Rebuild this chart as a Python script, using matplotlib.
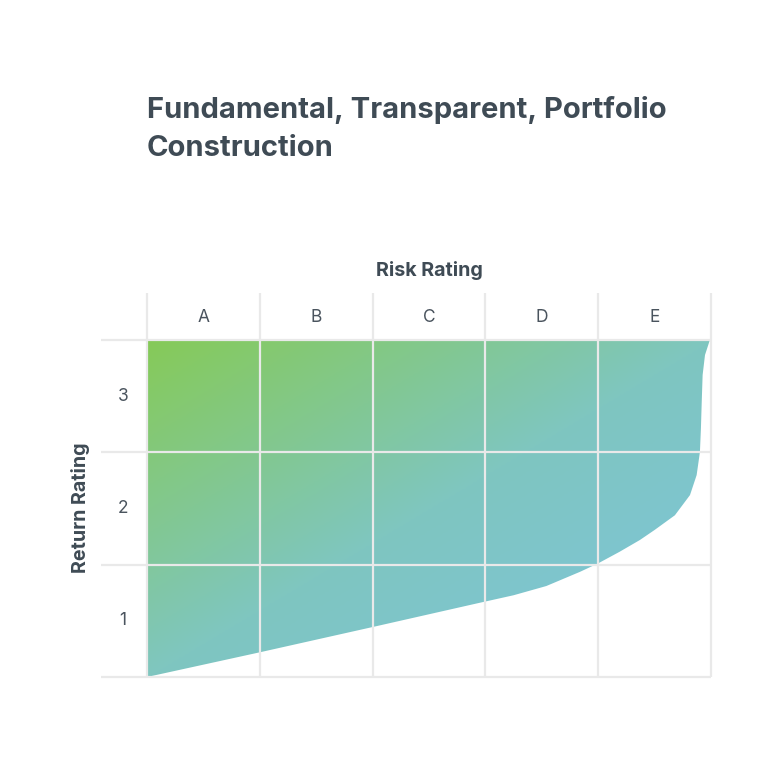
import numpy as np
import matplotlib
matplotlib.use('Agg')
import matplotlib.pyplot as plt
from matplotlib.patches import Polygon
from matplotlib.colors import LinearSegmentedColormap

plt.rcParams['font.family'] = ['Inter', 'DejaVu Sans']

title = 'Fundamental, Transparent, Portfolio\nConstruction'
risk_labels = ['A', 'B', 'C', 'D', 'E']
return_labels = ['1', '2', '3']

# frontier of the shaded region (risk, return)
frontier_x = [0.0, 1.0, 2.0, 2.95, 3.25, 3.54, 3.84, 4.0, 4.19, 4.37, 4.50,
              4.68, 4.814, 4.873, 4.902, 4.911, 4.918, 4.926, 4.947, 4.99]
frontier_y = [0.0, 0.22, 0.445, 0.661, 0.728, 0.81, 0.937, 1.012, 1.115, 1.22,
              1.309, 1.44, 1.62, 1.798, 2.003, 2.217, 2.448, 2.689, 2.867, 3.0]

grad_colors = ['#86ca58', '#7fc6c0', '#7ec4de']
text_dark = '#3f4b55'
grid_col = '#e9e9e9'

fig = plt.figure(figsize=(7.68, 7.68), dpi=100)
ax = fig.add_axes([90/768, 83/768, 630/768, 400/768])
ax.axis('off')

# gradient image clipped by frontier
cmap = LinearSegmentedColormap.from_list('g', grad_colors)
u = np.linspace(0, 1, 300)
v = np.linspace(0, 1, 200)
U, V = np.meshgrid(u, v)
T = (U + V) / 2  # top-left -> bottom-right
im = ax.imshow(T, cmap=cmap, extent=(0, 5, 0, 3), origin='upper',
               aspect='auto', interpolation='bilinear', zorder=1)
ax.set_xlim(-0.505, 5.08)
ax.set_ylim(-0.071, 3.49)
verts = [(0, 3)] + list(zip(frontier_x[::-1], frontier_y[::-1]))
poly = Polygon(verts, closed=True, facecolor='none', edgecolor='none')
ax.add_patch(poly)
im.set_clip_path(poly)

# grid
for i in range(6):
    ax.plot([i, i], [0, 3.42], color=grid_col, lw=1.6, zorder=3,
            solid_capstyle='butt', clip_on=False)
for j in range(4):
    ax.plot([-0.41, 5], [j, j], color=grid_col, lw=1.6, zorder=3,
            solid_capstyle='butt', clip_on=False)

for i, lab in enumerate(risk_labels):
    ax.text(i + 0.5, 3.205, lab, ha='center', va='center',
            fontsize=12.5, color='#4a545e')
for j, lab in enumerate(return_labels):
    ax.text(-0.213, j + 0.5, lab, ha='center', va='center',
            fontsize=12.5, color='#4a545e')

fig.text(429/768, 1 - 271/768, 'Risk Rating', ha='center', va='center',
         fontsize=14.2, fontweight='bold', color=text_dark)
fig.text(80/768, 1 - 508/768, 'Return Rating', ha='center', va='center',
         rotation=90, fontsize=14.2, fontweight='bold', color=text_dark)

fig.text(147/768, 1 - 96/768, title, ha='left', va='top', fontsize=21,
         fontweight='bold', color=text_dark, linespacing=1.5)

fig.savefig('out.png', dpi=100, facecolor='white')
